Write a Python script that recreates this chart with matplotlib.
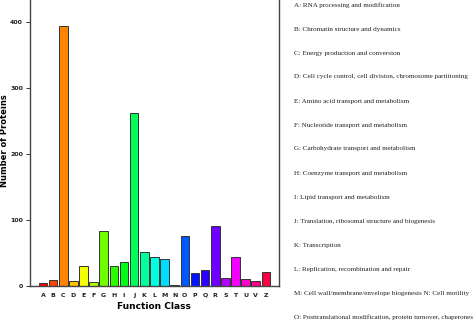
import matplotlib.pyplot as plt
import matplotlib.colors as mcolors

# COG function classes
classes = ['A', 'B', 'C', 'D', 'E', 'F', 'G', 'H', 'I', 'J', 'K', 'L', 'M',
           'N', 'O', 'P', 'Q', 'R', 'S', 'T', 'U', 'V', 'Z']
counts = [5, 9, 395, 7, 30, 6, 84, 31, 37, 262, 52, 44, 41,
          1, 76, 19, 24, 91, 12, 44, 10, 7, 21]
descriptions = [
    'A: RNA processing and modification',
    'B: Chromatin structure and dynamics',
    'C: Energy production and conversion',
    'D: Cell cycle control, cell division, chromosome partitioning',
    'E: Amino acid transport and metabolism',
    'F: Nucleotide transport and metabolism',
    'G: Carbohydrate transport and metabolism',
    'H: Coenzyme transport and metabolism',
    'I: Lipid transport and metabolism',
    'J: Translation, ribosomal structure and biogenesis',
    'K: Transcription',
    'L: Replication, recombination and repair',
    'M: Cell wall/membrane/envelope biogenesis N: Cell motility',
    'O: Posttranslational modification, protein turnover, chaperones',
]
yticks = [0, 100, 200, 300, 400]

n = len(classes)
colors = [mcolors.hsv_to_rgb((i / n, 1.0, 1.0)) for i in range(n)]

fig = plt.figure(figsize=(4.74, 3.22), dpi=100)
ax = fig.add_axes([0.0633, 0.112, 0.525, 0.9006])

x = list(range(n))
ax.bar(x, counts, width=0.85, color=colors, edgecolor='#333333', linewidth=0.7)

ax.set_xlim(-1.28, n - 1 + 1.28)
ax.set_ylim(0, 440)
ax.set_xticks(x)
ax.set_xticklabels(classes, fontsize=4.5, fontweight='bold', color='#222222')
ax.tick_params(axis='x', length=0, pad=5)
ax.set_yticks(yticks)
ax.set_yticklabels([str(v) for v in yticks], fontsize=4.5, fontweight='bold', color='#222222')
ax.tick_params(axis='y', length=3, width=0.7, pad=2, color='#333333')

ax.spines['top'].set_visible(False)
for s in ['left', 'bottom', 'right']:
    ax.spines[s].set_color('#444444')
    ax.spines[s].set_linewidth(1.0)

ax.set_xlabel('Function Class', fontsize=6.5, fontweight='bold', labelpad=3)
ax.set_ylabel('Number of Proteins', fontsize=6, fontweight='bold', labelpad=1)

# class descriptions on the right side
for i, txt in enumerate(descriptions):
    ypix = 5 + 24 * i
    fig.text(294 / 474, 1 - ypix / 322, txt, fontsize=5.1,
             family='Liberation Serif', color='#222222', va='center', ha='left')

fig.savefig('out.png', dpi=100)
